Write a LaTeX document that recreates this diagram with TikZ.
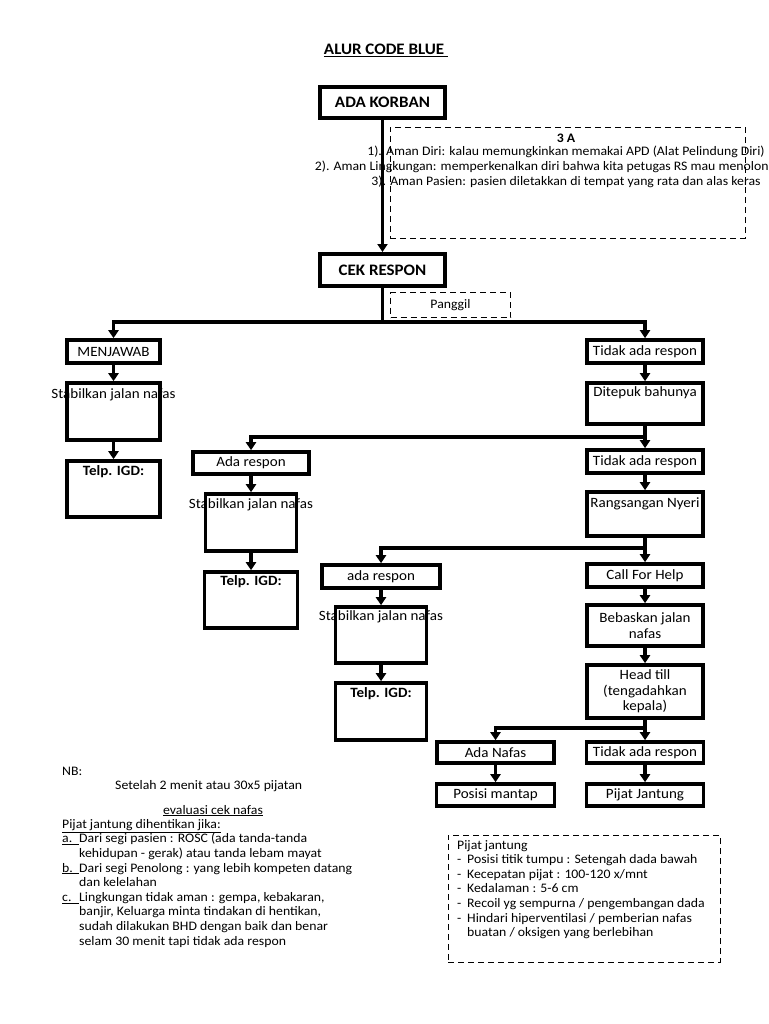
\documentclass[tikz,border=0pt]{standalone}
\usepackage{fontspec}
\setmainfont{Carlito}[FakeStretch=1.06]
\usetikzlibrary{arrows.meta}

\newcommand\flowfont{\fontsize{14.2}{15.5}\selectfont}
\newcommand\bodyfont{\fontsize{13}{14.6}\selectfont}

\begin{document}
\begin{tikzpicture}[x=1pt, y=-1pt,
    box/.style={draw, line width=3.6pt, inner sep=0pt, align=center, font=\flowfont},
    bigbox/.style={box, line width=4pt, font=\fontsize{16}{18}\selectfont\bfseries},
    note/.style={draw, line width=0.9pt, dash pattern=on 6pt off 4pt, inner sep=0pt},
    txt/.style={inner sep=0pt, font=\bodyfont},
    flowtxt/.style={inner sep=0pt, font=\flowfont},
    conn/.style={line width=3.6pt},
    arr/.style={conn, -{Triangle[width=10pt,length=8pt]}}]
  \useasboundingbox (0,0) rectangle (768,1024);

  % Title
  \node[inner sep=0pt, font=\fontsize{16}{18}\selectfont\bfseries] (title) at (386,50) {\underline{ALUR CODE BLUE\ }};

  % The 3 A note
  \node[note, minimum width=355, minimum height=111] (tigaA) at (567.5,182.5) {};
  \node[txt, align=center, anchor=north, font=\fontsize{13}{15}\selectfont] (tigaAtxt) at (566,134) {\textbf{3 A}\\[-2pt]
    1). Aman Diri: kalau memungkinkan memakai APD (Alat Pelindung Diri)\\
    2). Aman Lingkungan: memperkenalkan diri bahwa kita petugas RS mau menolong\hspace*{42pt}\mbox{}\\
    3). Aman Pasien: pasien diletakkan di tempat yang rata dan alas keras};

  % Main boxes
  \node[bigbox, minimum width=125, minimum height=31] (korban) at (382.5,102.5) {ADA KORBAN};
  \node[bigbox, minimum width=125, minimum height=32] (cek) at (382.5,270) {CEK RESPON};
  \draw[arr] (korban.south) -- (cek.north);
  \node[note, line width=0.8pt, minimum width=120, minimum height=25, font=\bodyfont] (panggil) at (450.5,305) {Panggil};

  % First split
  \draw[conn] (cek.south) -- ++(0,34) coordinate (s1);
  \node[box, minimum width=93, minimum height=23] (menjawab) at (113.5,351.5) {MENJAWAB};
  \node[box, minimum width=116, minimum height=23] (tidak1) at (645,351.5) {Tidak ada respon};
  \draw[arr] (s1) -| (menjawab.north);
  \draw[arr] (s1) -| (tidak1.north);

  % Left column
  \node[flowtxt] (stabAtxt) at (113.5,395) {Stabilkan jalan nafas};
  \node[box, minimum width=93, minimum height=57] (stabA) at (113.5,411.5) {};
  \node[box, minimum width=93, minimum height=56] (igdA) at (113.5,489) {};
  \node[flowtxt, font=\flowfont\bfseries] (igdAtxt) at (113.5,472) {Telp. IGD:};
  \draw[arr] (menjawab.south) -- (stabA.north);
  \draw[arr] (stabA.south) -- (igdA.north);

  % Right column
  \node[box, minimum width=116, minimum height=41] (tepuk) at (645,403.5) {};
  \node[flowtxt] (tepuktxt) at (645,393) {Ditepuk bahunya};
  \draw[arr] (tidak1.south) -- (tepuk.north);
  \draw[conn] (tepuk.south) -- ++(0,11) coordinate (s2);
  \node[box, minimum width=116, minimum height=22] (adaA) at (251,463) {Ada respon};
  \node[box, minimum width=116, minimum height=23] (tidak2) at (645,461.5) {Tidak ada respon};
  \draw[arr] (s2) -| (adaA.north);
  \draw[arr] (s2) -- (tidak2.north);

  % Second column
  \node[flowtxt] (stabBtxt) at (251,505) {Stabilkan jalan nafas};
  \node[box, minimum width=91, minimum height=57] (stabB) at (251,522.5) {};
  \node[box, minimum width=93, minimum height=56] (igdB) at (251,600) {};
  \node[flowtxt, font=\flowfont\bfseries] (igdBtxt) at (251,582) {Telp. IGD:};
  \draw[arr] (adaA.south) -- (stabB.north);
  \draw[arr] (stabB.south) -- (igdB.north);

  \node[box, minimum width=116, minimum height=44] (nyeri) at (645,514) {};
  \node[flowtxt] (nyeritxt) at (645,504) {Rangsangan Nyeri};
  \draw[arr] (tidak2.south) -- (nyeri.north);
  \draw[conn] (nyeri.south) -- ++(0,10) coordinate (s3);
  \node[box, minimum width=118, minimum height=23] (adaB) at (381,576.5) {ada respon};
  \node[box, minimum width=116, minimum height=23] (help) at (645,575.5) {Call For Help};
  \draw[arr] (s3) -| (adaB.north);
  \draw[arr] (s3) -- (help.north);

  % Third column
  \node[flowtxt] (stabCtxt) at (381,617) {Stabilkan jalan nafas};
  \node[box, minimum width=91, minimum height=56] (stabC) at (381,635) {};
  \node[box, minimum width=91, minimum height=57] (igdC) at (381,711.5) {};
  \node[flowtxt, font=\flowfont\bfseries] (igdCtxt) at (381,694) {Telp. IGD:};
  \draw[arr] (adaB.south) -- (stabC.north);
  \draw[arr] (stabC.south) -- (igdC.north);

  \node[box, minimum width=116, minimum height=41] (bebas) at (645,625.5) {Bebaskan jalan\\nafas};
  \node[box, minimum width=116, minimum height=53] (head) at (645,691.5) {Head till\\(tengadahkan\\kepala)};
  \draw[arr] (help.south) -- (bebas.north);
  \draw[arr] (bebas.south) -- (head.north);
  \draw[conn] (head.south) -- ++(0,8) coordinate (s4);
  \node[box, minimum width=117, minimum height=21] (nafas) at (495.5,752.5) {Ada Nafas};
  \node[box, minimum width=117, minimum height=21] (tidak3) at (645,752.5) {Tidak ada respon};
  \draw[arr] (s4) -| (nafas.north);
  \draw[arr] (s4) -- (tidak3.north);
  \node[box, minimum width=118, minimum height=22] (mantap) at (495.5,795) {Posisi mantap};
  \node[box, minimum width=117, minimum height=22] (pijat) at (645,795) {Pijat Jantung};
  \draw[arr] (nafas.south) -- (mantap.north);
  \draw[arr] (tidak3.south) -- (pijat.north);

  % Notes at the bottom
  \node[txt, anchor=base west] (nb) at (62,775) {NB:};
  \node[txt, anchor=base west] (setelah) at (115,789) {Setelah 2 menit atau 30x5 pijatan};
  \node[txt, anchor=base] (evaluasi) at (213,814) {\underline{evaluasi cek nafas}};
  \node[txt, anchor=north west, align=left] (syarat) at (62,819) {\underline{Pijat jantung dihentikan jika:}\\
    \underline{\makebox[17pt][l]{a.}}Dari segi pasien : ROSC (ada tanda-tanda\\
    \hspace*{17pt}kehidupan - gerak) atau tanda lebam mayat\\
    \underline{\makebox[17pt][l]{b.}}Dari segi Penolong : yang lebih kompeten datang\\
    \hspace*{17pt}dan kelelahan\\
    \underline{\makebox[17pt][l]{c.}}Lingkungan tidak aman : gempa, kebakaran,\\
    \hspace*{17pt}banjir, Keluarga minta tindakan di hentikan,\\
    \hspace*{17pt}sudah dilakukan BHD dengan baik dan benar\\
    \hspace*{17pt}selam 30 menit tapi tidak ada respon};

  \node[note, minimum width=272, minimum height=127] (pijatnote) at (584,898.5) {};
  \node[txt, anchor=north west, align=left] (pijatnotetxt) at (457,840) {Pijat jantung\\
    \makebox[10pt][l]{-}Posisi titik tumpu : Setengah dada bawah\\
    \makebox[10pt][l]{-}Kecepatan pijat : 100-120 x/mnt\\
    \makebox[10pt][l]{-}Kedalaman : 5-6 cm\\
    \makebox[10pt][l]{-}Recoil yg sempurna / pengembangan dada\\
    \makebox[10pt][l]{-}Hindari hiperventilasi / pemberian nafas\\
    \hspace*{10pt}buatan / oksigen yang berlebihan};
\end{tikzpicture}
\end{document}
